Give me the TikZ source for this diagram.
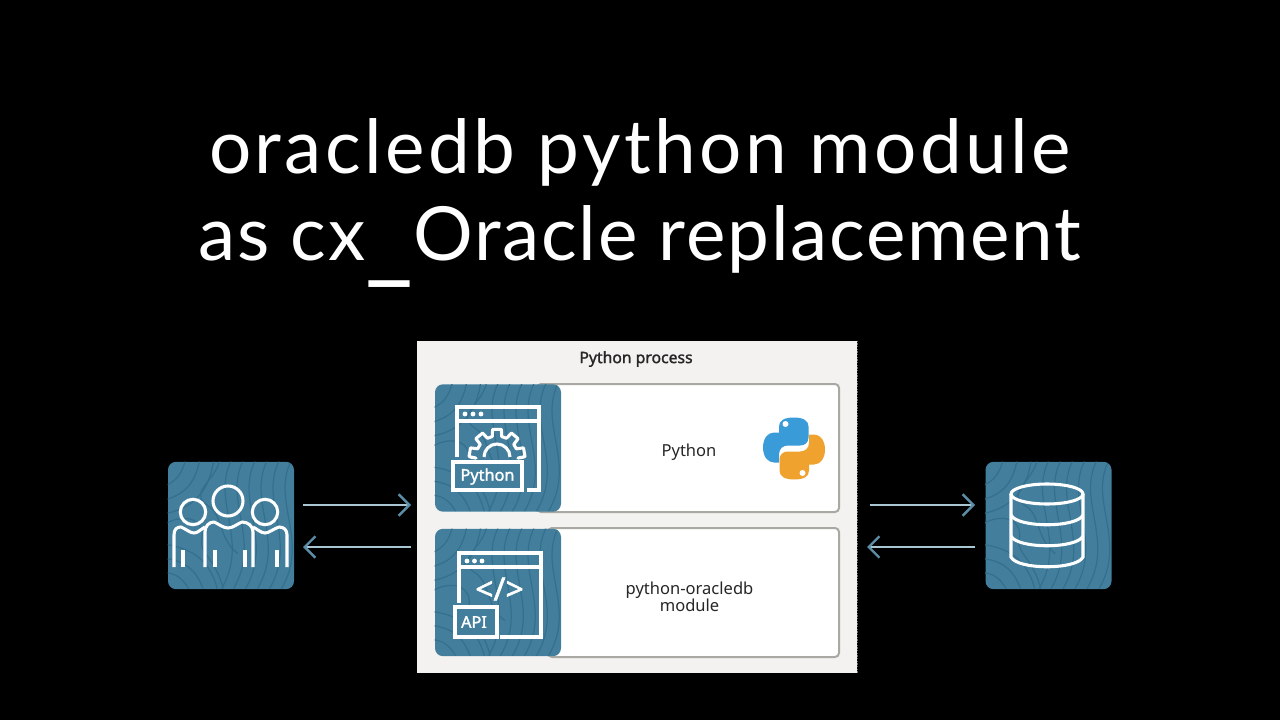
\documentclass[tikz,border=0pt]{standalone}
\usepackage{fontspec}
\setmainfont{Lato}
\newfontfamily\labelfont{Noto Sans}
\newfontfamily\labelboldfont{Noto Sans}[FakeBold=1.6]
\newfontfamily\titleone{Lato}[LetterSpace=4.6]
\newfontfamily\titletwo{Lato}[LetterSpace=2.4]
\usetikzlibrary{arrows.meta}

\definecolor{iconblue}{HTML}{437F9C}
\definecolor{topoblue}{HTML}{33708D}
\definecolor{panelgray}{HTML}{F3F2F0}
\definecolor{edgegray}{HTML}{A9A8A3}
\definecolor{pyblue}{HTML}{3A9BD9}
\definecolor{pyyellow}{HTML}{F0A22E}
\definecolor{flowline}{HTML}{A9C7D3}
\definecolor{flowtip}{HTML}{5B8EA6}

\tikzset{
  iconbox/.style={fill=iconblue, rounded corners=6pt, minimum width=94.5pt, minimum height=95.5pt, inner sep=0},
  rowbox/.style={draw=edgegray, line width=1.5pt, fill=white, rounded corners=3pt, inner sep=0},
  topo/.style={draw=topoblue, line width=0.9pt},
  glyph/.style={draw=white, line width=2.3pt},
  flow/.style={draw=flowline, line width=1.4pt, -{Straight Barb[length=8pt,width=16pt,color=flowtip,line width=1.8pt]}},
  rowtext/.style={font=\labelfont\fontsize{12.4}{12.8}\selectfont, text=black!85, align=center, inner sep=0},
  tagtext/.style={font=\labelboldfont\fontsize{12.2}{12.5}\selectfont, text=white, inner sep=0},
}

% contour lines inside one blue box
\newcommand{\topolines}[1]{
  \begin{scope}[shift={(#1.north west)}]
    \clip[rounded corners=6pt] (0,0) rectangle (126,127);
    \foreach \d in {64,76,88,100,112,124}
      \draw[topo] (\d,-2) .. controls (\d-22,40) and (\d+20,80) .. (\d-12,130);
    \foreach \r in {18,32,46}
      \draw[topo] (\r,-2) .. controls (\r-4,0.6*\r) and (0.6*\r,\r) .. (-2,\r+6);
    \foreach \r in {16,30,44}
      \draw[topo] (-2,127-\r) .. controls (0.7*\r,127-0.9*\r) and (\r,127-0.5*\r) .. (\r+6,129);
    \draw[topo] (-2,62) .. controls (20,50) and (38,60) .. (34,78) .. controls (31,92) and (48,96) .. (56,129);
    \draw[topo] (52,-2) .. controls (48,20) and (20,30) .. (40,44) .. controls (56,54) and (50,76) .. (70,92);
  \end{scope}
}
% one half of the snake logo
\newcommand{\snakehalf}[1]{
  \fill[#1] (0,-31) .. controls (-10,-31) and (-15,-28) .. (-15,-22) -- (-15,-16)
    -- (-20,-16) .. controls (-27,-16) and (-31,-9) .. (-31,-1) .. controls (-31,7) and (-27,14) .. (-20,14)
    -- (-15,14) -- (-15,6) .. controls (-15,0) and (-11,-3) .. (-6,-3) -- (6,-3)
    .. controls (11,-3) and (14.5,-6) .. (14.5,-11) -- (14.5,-22) .. controls (14.5,-28) and (9,-31) .. (0,-31) -- cycle;
  \fill[white] (-8.5,-24.5) circle (3);
}

\begin{document}
\begin{tikzpicture}[x=0.75pt, y=-0.75pt]
  \fill[black] (0,0) rectangle (1280,720);
  \useasboundingbox (0,0) rectangle (1280,720);

  \node[text=white, align=center, inner sep=0, font=\fontsize{56}{65.5}\selectfont] (title) at (640,203)
    {{\titleone oracledb python module}\\{\titletwo as cx\raisebox{-8pt}{\scalebox{1.4}[1.5]{\_}}Oracle replacement}};

  % process panel
  \node[fill=panelgray, minimum width=330pt, minimum height=249pt, inner sep=0] (process) at (637,507) {};
  \draw[edgegray!70!black, densely dotted, line width=1pt] (process.north east) -- (process.south east);
  \node[rowtext, font=\labelboldfont\fontsize{11.8}{12}\selectfont] (processlabel) at (636,359) {Python process};
  \draw[rowbox] (537,384) rectangle (839,512);
  \draw[rowbox] (548,528) rectangle (839,657);
  \node[rowtext] (pythonlabel) at (689,452.5) {Python};
  \node[rowtext] (modulelabel) at (689.5,596.5) {python-oracledb\\module};

  % blue boxes
  \node[iconbox] (users) at (231,525.5) {};
  \node[iconbox] (pythonicon) at (498,448) {};
  \node[iconbox] (apiicon) at (498,592.5) {};
  \node[iconbox] (database) at (1048.5,525.5) {};
  \topolines{users}
  \topolines{pythonicon}
  \topolines{apiicon}
  \topolines{database}

  % people
  \draw[glyph] (228,501) circle (15);
  \draw[glyph] (193,512) circle (12.7);
  \draw[glyph] (265,512) circle (12.7);
  \draw[glyph, line join=round] (174,567) -- (174,535) .. controls (174,529) and (177,527) .. (181,527)
    .. controls (186,529) and (190,533) .. (194,533) .. controls (198,533) and (201,529) .. (205,527);
  \draw[glyph, line join=round] (205,567) -- (205,532) .. controls (205,526) and (209,522) .. (214,522)
    .. controls (219,524) and (223,528) .. (228,528) .. controls (233,528) and (237,524) .. (242,522)
    .. controls (248,522) and (253,526) .. (253,532) -- (253,567);
  \draw[glyph, line join=round] (253,527) .. controls (257,529) and (261,533) .. (265,533)
    .. controls (269,533) and (273,529) .. (279,527) .. controls (284,527) and (287,530) .. (287,535) -- (287,567);
  \foreach \x in {183,215,245,277}
    \draw[glyph] (\x,550) -- (\x,567);

  % database
  \draw[glyph] (1047,494) ellipse (36 and 10);
  \draw[glyph] (1011,494) -- (1011,557) .. controls (1017,570) and (1077,570) .. (1083,557) -- (1083,494);
  \draw[glyph] (1011,515) .. controls (1017,528) and (1077,528) .. (1083,515);
  \draw[glyph] (1011,536) .. controls (1017,549) and (1077,549) .. (1083,536);

  % python window
  \draw[glyph] (457,457) -- (457,407) -- (539,407) -- (539,490) -- (527,490);
  \draw[glyph] (457,421) -- (539,421);
  \foreach \x in {465,473,481}
    \fill[white] (\x,414) circle (2.4);
  \draw[glyph, line join=round] (470,457) \foreach \a in {-170,-130,-90,-50,-10} {
      -- ([shift={(497,457)}]\a-13:21) -- ([shift={(497,457)}]\a-9:28) -- ([shift={(497,457)}]\a+9:28) -- ([shift={(497,457)}]\a+13:21)
    } -- (524,457);
  \draw[glyph] (484,457) arc (180:360:13);
  \draw[glyph, fill=iconblue] (453,462) rectangle (522,490);
  \node[tagtext] (pythontag) at (487.5,476.5) {Python};

  % api window
  \draw[glyph] (459,603) -- (459,553) -- (541,553) -- (541,637) -- (500,637);
  \draw[glyph] (459,567) -- (541,567);
  \foreach \x in {467,474.5,482}
    \fill[white] (\x,561) circle (2.4);
  \node[inner sep=0, text=white, font=\labelboldfont\fontsize{24}{24}\selectfont] (codetag) at (499.5,589) {</>};
  \draw[glyph, fill=iconblue] (455,607) rectangle (497,637);
  \node[tagtext] (apitag) at (474,622) {API};

  % snake logo
  \begin{scope}[shift={(794,448.5)}]
    \snakehalf{pyblue}
    \begin{scope}[rotate=180]
      \snakehalf{pyyellow}
    \end{scope}
  \end{scope}

  % arrows
  \coordinate (usersout) at (303,505);
  \coordinate (processin) at (411,505);
  \coordinate (processout) at (411,547);
  \coordinate (usersin) at (303,547);
  \coordinate (dbgoing) at (870,505);
  \coordinate (dbarrive) at (975,505);
  \coordinate (dbleave) at (975,547);
  \coordinate (dbreturn) at (867,547);
  \draw[flow] (usersout) -- (processin);
  \draw[flow] (processout) -- (usersin);
  \draw[flow] (dbgoing) -- (dbarrive);
  \draw[flow] (dbleave) -- (dbreturn);
\end{tikzpicture}
\end{document}
